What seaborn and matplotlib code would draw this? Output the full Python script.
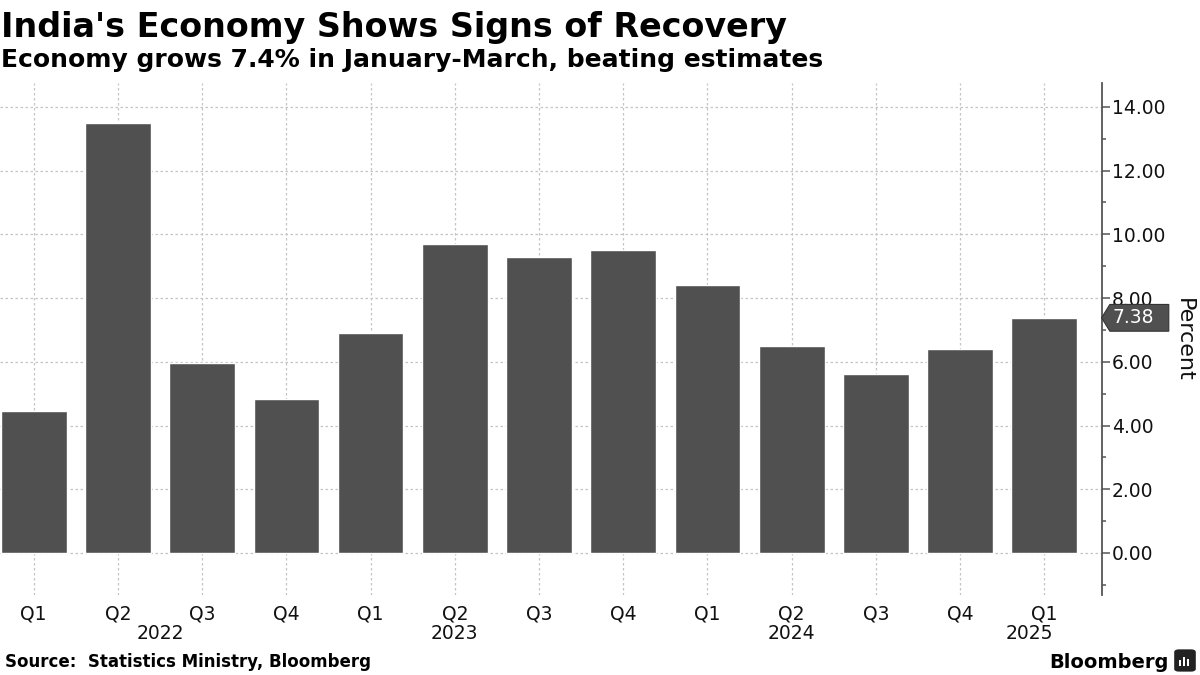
import numpy as np
import pandas as pd
import matplotlib
matplotlib.use('Agg')
import matplotlib.pyplot as plt
import matplotlib.transforms as mtransforms
from matplotlib.patches import Polygon, FancyBboxPatch
from matplotlib.ticker import MultipleLocator, FormatStrFormatter
import seaborn as sns

# Data (GDP growth, percent, year on year)
periods = ['2022 Q1', '2022 Q2', '2022 Q3', '2022 Q4',
           '2023 Q1', '2023 Q2', '2023 Q3', '2023 Q4',
           '2024 Q1', '2024 Q2', '2024 Q3', '2024 Q4',
           '2025 Q1']
quarters = ['Q1', 'Q2', 'Q3', 'Q4', 'Q1', 'Q2', 'Q3', 'Q4',
            'Q1', 'Q2', 'Q3', 'Q4', 'Q1']
growth = [4.45, 13.48, 5.97, 4.83, 6.90, 9.69, 9.28, 9.50,
          8.40, 6.49, 5.61, 6.40, 7.38]
year_labels = ['2022', '2023', '2024', '2025']
year_pos = [1.5, 5.0, 9.0, 11.82]

df = pd.DataFrame({'period': periods, 'growth': growth})

bar_color = '#505050'
grid_color = '#c4c4c4'
text_color = '#111111'

sns.set_style('white')
plt.rcParams['font.family'] = ['DejaVu Sans']

fig = plt.figure(figsize=(12, 6.75), dpi=100)
ax = fig.add_axes([0.0, 0.1185, 0.918, 0.759])

sns.barplot(data=df, x='period', y='growth', order=periods, color=bar_color,
            saturation=1, width=0.78, ax=ax, zorder=2)

ax.set_xlim(-0.4, 12.68)
ax.set_ylim(-1.32, 14.76)

# Axis styling
ax.yaxis.tick_right()
ax.yaxis.set_major_locator(MultipleLocator(2))
ax.yaxis.set_minor_locator(MultipleLocator(1))
ax.yaxis.set_major_formatter(FormatStrFormatter('%.2f'))
ax.tick_params(axis='y', which='major', direction='out', length=6, width=1.1,
               color='#555555', labelsize=13.5, labelcolor=text_color, pad=1.5)
ax.tick_params(axis='y', which='minor', direction='out', length=3, width=1.1,
               color='#555555')
ax.set_xticks(range(len(quarters)))
ax.set_xticklabels(quarters)
ax.tick_params(axis='x', length=0, labelsize=13.5, labelcolor=text_color, pad=7)

for side in ['top', 'left', 'bottom']:
    ax.spines[side].set_visible(False)
ax.spines['right'].set_color('#555555')
ax.spines['right'].set_linewidth(1.3)

ax.grid(True, which='major', axis='both', color=grid_color,
        linestyle=(0, (2, 2)), linewidth=0.9)
ax.set_axisbelow(True)

ax.set_xlabel('')
ax.set_ylabel('')
ax.text(1.0747, 0.498, 'Percent', transform=ax.transAxes, rotation=-90,
        ha='center', va='center', fontsize=16, color=text_color, clip_on=False)

# Year labels under the quarters
trans_x = mtransforms.blended_transform_factory(ax.transData, ax.transAxes)
for lab, pos in zip(year_labels, year_pos):
    ax.text(pos, -0.076, lab, transform=trans_x, ha='center', va='center',
            fontsize=13.5, color=text_color)

# Last value tag on the right axis
last = growth[-1]
trans_y = mtransforms.blended_transform_factory(ax.transAxes, ax.transData)
h = 0.42
tag = Polygon([(1.0, last), (1.0075, last + h), (1.061, last + h),
               (1.061, last - h), (1.0075, last - h)],
              closed=True, transform=trans_y, clip_on=False,
              facecolor=bar_color, edgecolor='#333333', linewidth=0.8, zorder=5)
ax.add_patch(tag)
ax.text(1.0095, last, f'{last:.2f}', transform=trans_y, ha='left', va='center',
        fontsize=13.5, color='white', zorder=6, clip_on=False)

# Titles
fig.text(0.001, 0.9456, "India's Economy Shows Signs of Recovery",
         fontsize=24, fontweight='bold', color='black', va='baseline')
fig.text(0.001, 0.9012, 'Economy grows 7.4% in January-March, beating estimates',
         fontsize=18, fontweight='bold', color='black', va='baseline')

# Footer
fig.text(0.004, 0.019, 'Source:  Statistics Ministry, Bloomberg',
         fontsize=12, fontweight='bold', color='black', va='center')
fig.text(0.9735, 0.019, 'Bloomberg', fontsize=14, fontweight='bold',
         color='black', va='center', ha='right')
logo = FancyBboxPatch((0.9795, 0.006), 0.016, 0.031,
                      boxstyle='round,pad=0.001,rounding_size=0.004',
                      transform=fig.transFigure, facecolor='#222222',
                      edgecolor='none')
fig.patches.append(logo)
for i, bh in enumerate([0.009, 0.014, 0.011]):
    fig.patches.append(FancyBboxPatch((0.9828 + i * 0.0033, 0.013), 0.0014, bh,
                                      boxstyle='square,pad=0',
                                      transform=fig.transFigure,
                                      facecolor='white', edgecolor='none'))

fig.savefig('out.png', dpi=100)
